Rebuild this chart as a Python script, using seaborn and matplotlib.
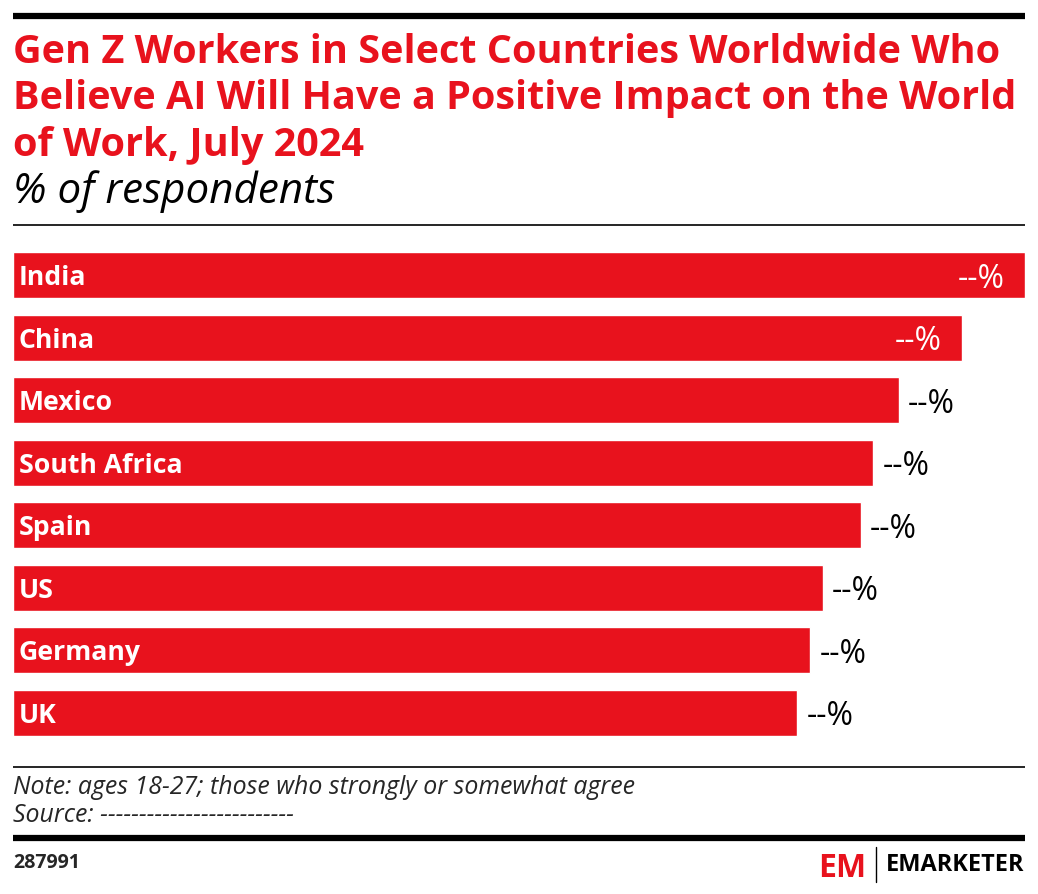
import matplotlib
matplotlib.use("Agg")
import matplotlib.pyplot as plt
import seaborn as sns
import pandas as pd

# data (values not shown in the original)
countries = ["India", "China", "Mexico", "South Africa", "Spain", "US", "Germany", "UK"]
values = [80, 75, 70, 68, 67, 64, 63, 62]
value_labels = ["--%"] * len(countries)
inside = [True, True, False, False, False, False, False, False]

RED = "#E8121D"

sns.set_theme(style="white")
plt.rcParams['font.family'] = ['Open Sans', 'DejaVu Sans']

df = pd.DataFrame({"country": countries, "value": values})

W, H = 1038, 894
fig = plt.figure(figsize=(W / 100, H / 100), dpi=100)
renderer = fig.canvas.get_renderer()


def fx(px):
    return px / W


def fy(py):
    return 1 - py / H


def fit(t, target_px):
    # scale font so the text spans about target_px
    w = t.get_window_extent(renderer).width
    t.set_fontsize(t.get_fontsize() * target_px / w)
    return t


ax = fig.add_axes([fx(13), fy(744), fx(1025) - fx(13), fy(244) - fy(744)])
sns.barplot(data=df, y="country", x="value", color=RED, saturation=1,
            width=0.736, orient="h", ax=ax)
ax.set_xlim(0, 80)
ax.set_ylim(len(countries) - 0.5, -0.5)
ax.axis("off")

probe = ax.text(0, 0, "South Africa", fontsize=17, fontweight="bold")
name_size = fit(probe, 163).get_fontsize()
probe.remove()
probe = ax.text(0, 0, "--%", fontsize=17)
val_size = fit(probe, 47).get_fontsize()
probe.remove()

for i, (name, val, lab, ins) in enumerate(zip(countries, values, value_labels, inside)):
    ax.text(0.45, i, name, color="white", fontsize=name_size, fontweight="bold",
            va="center_baseline", ha="left")
    if ins:
        ax.text(val - 1.6, i, lab, color="white", fontsize=val_size,
                va="center_baseline", ha="right")
    else:
        ax.text(val + 0.75, i, lab, color="black", fontsize=val_size,
                va="center_baseline", ha="left")


# rules
def hline(py, lw):
    fig.add_artist(plt.Line2D([fx(13), fx(1025)], [fy(py), fy(py)], color="black",
                              linewidth=lw, solid_capstyle="butt"))


hline(16, 4.5)
hline(225, 1.2)
hline(767, 1.2)
hline(838, 4.5)

title_lines = ["Gen Z Workers in Select Countries Worldwide Who",
               "Believe AI Will Have a Positive Impact on the World",
               "of Work, July 2024"]
t1 = fig.text(fx(13), fy(63 + 46.5), title_lines[1], color=RED, fontsize=24,
              fontweight="bold", va="baseline", ha="left")
tsize = fit(t1, 1006).get_fontsize()
for k in (0, 2):
    fig.text(fx(13), fy(63 + 46.5 * k), title_lines[k], color=RED, fontsize=tsize,
             fontweight="bold", va="baseline", ha="left")

fit(fig.text(fx(13), fy(203), "% of respondents", color="black", fontsize=24,
             style="italic", va="baseline", ha="left"), 322)

note = fig.text(fx(13), fy(794), "Note: ages 18-27; those who strongly or somewhat agree",
                fontsize=15, style="italic", va="baseline", ha="left")
fit(note, 622)
fig.text(fx(13), fy(822), "Source: -------------------------",
         fontsize=note.get_fontsize(), style="italic", va="baseline", ha="left")

fit(fig.text(fx(13), fy(868), "287991", fontsize=12, fontweight="bold",
             va="baseline", ha="left"), 67)

# logo
fit(fig.text(fx(818), fy(877), "EM", color=RED, fontsize=22, fontweight="bold",
             va="baseline", ha="left"), 48)
fig.add_artist(plt.Line2D([fx(876), fx(876)], [fy(847), fy(882)], color="black", linewidth=1))
fit(fig.text(fx(886), fy(871), "EMARKETER", color="black", fontsize=16, fontweight="bold",
             va="baseline", ha="left"), 139)

fig.savefig("out.png", dpi=100)
